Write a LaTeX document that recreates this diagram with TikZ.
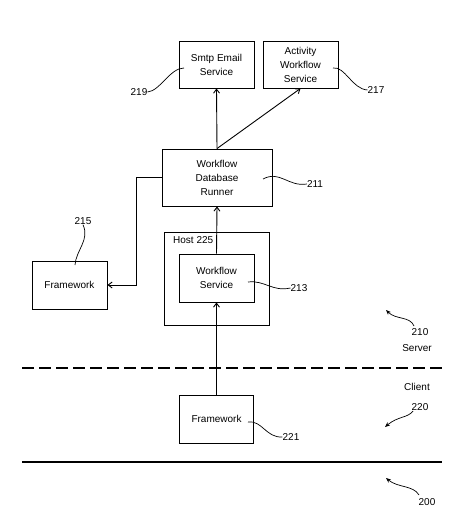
\documentclass[tikz,border=0pt]{standalone}
\usepackage{fontspec}
\setmainfont{Liberation Sans}
\usetikzlibrary{arrows.meta}
\begin{document}
\begin{tikzpicture}[x=1pt,y=-1pt,
  box/.style={draw,line width=0.9pt,align=center,inner sep=1pt,font=\fontsize{10}{14}\selectfont},
  lbl/.style={inner sep=0pt,font=\fontsize{10}{12}\selectfont},
  conn/.style={line width=0.9pt,-{Straight Barb[length=4pt,width=6pt]}},
  lead/.style={line width=0.7pt},
  ptr/.style={line width=0.7pt,-{Stealth[length=5pt,width=4pt]}}]
\useasboundingbox (0,0) rectangle (474,527);
% boxes
\node[box,minimum width=75pt,minimum height=47pt] (smtp) at (216.5,64.5) {Smtp Email\\Service};
\node[box,minimum width=75pt,minimum height=47pt] (act) at (300.5,64.5) {Activity\\Workflow\\Service};
\node[box,minimum width=110pt,minimum height=57pt] (wdr) at (217,177.5) {Workflow\\Database\\Runner};
\node[box,minimum width=75pt,minimum height=48pt] (fwa) at (69.5,285) {Framework};
\node[box,minimum width=105pt,minimum height=93pt] (host) at (216.5,278.5) {};
\node[lbl,anchor=west] (hostl) at (173,240) {Host 225};
\node[box,minimum width=75pt,minimum height=48pt] (ws) at (216.5,278) {Workflow\\Service};
\node[box,minimum width=74pt,minimum height=48pt] (fwb) at (216.5,419) {Framework};
% connectors
\draw[conn] (fwb.north) -- (ws.south);
\draw[conn] (ws.north) -- (wdr.south);
\draw[conn] (wdr.north) -- (smtp.south);
\draw[conn] (wdr.north) -- (act.south);
\draw[conn] (wdr.west) -- ++(-25,0) |- (fwa.east);
% separators
\coordinate (dl) at (22,368); \coordinate (dr) at (442,368);
\draw[line width=2pt,dash pattern=on 12pt off 5pt] (dl) -- (dr);
\coordinate (sl) at (22,462); \coordinate (sr) at (442,462);
\draw[line width=2pt] (sl) -- (sr);
% labels
\node[lbl] (l219) at (139,92) {219};
\node[lbl] (l217) at (376,90) {217};
\node[lbl] (l211) at (315,184) {211};
\node[lbl] (l215) at (83,221) {215};
\node[lbl] (l213) at (299,288) {213};
\node[lbl] (l221) at (291,437) {221};
\node[lbl] (l220) at (420,407) {220};
\node[lbl] (l210) at (420,332) {210};
\node[lbl] (srv) at (417,348) {Server};
\node[lbl] (cli) at (417,387) {Client};
\node[lbl] (l200) at (427,502) {200};
% leaders
\draw[lead] (l219.east) .. controls (160,91) and (170,68) .. (184,68);
\draw[lead] (333,68) .. controls (345,66) and (352,89) .. (l217.west);
\draw[lead] (263,179) .. controls (280,170) and (288,187) .. (l211.west);
\draw[lead] (l215.south) .. controls (90,240) and (76,250) .. (75,265);
\draw[lead] (248,282) .. controls (265,280) and (272,292) .. (l213.west);
\draw[lead] (248,422) .. controls (262,420) and (266,438) .. (l221.west);
\draw[ptr] (413,411) .. controls (408,418) and (398,416) .. (385,427);
\draw[ptr] (414,326) .. controls (410,316) and (396,320) .. (386,310);
\draw[ptr] (419,495) .. controls (413,485) and (398,488) .. (386,478);
\end{tikzpicture}
\end{document}
